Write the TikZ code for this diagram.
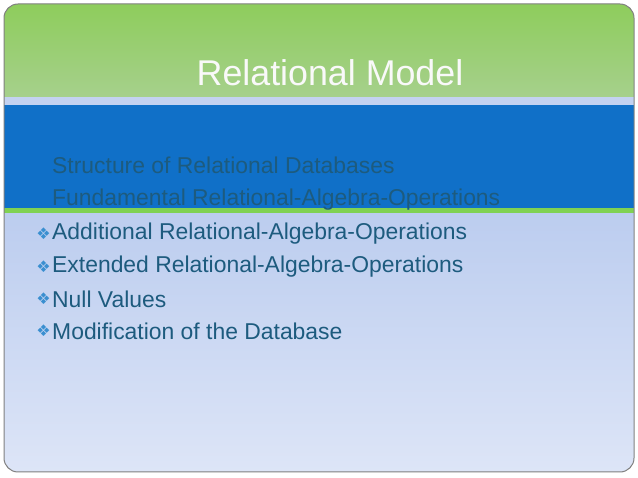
\documentclass[tikz,border=0pt]{standalone}
\usepackage{fontspec}
\setmainfont{Liberation Sans}
\newfontfamily\dejavu{DejaVu Sans}
\definecolor{txt}{HTML}{1D5B7E}
\definecolor{bul}{HTML}{3A8FD0}
\definecolor{gtop}{HTML}{8ECD5C}
\definecolor{gbot}{HTML}{A6D08C}
\definecolor{blueband}{HTML}{1070C8}
\definecolor{lb1}{HTML}{BCCDEF}
\definecolor{lb2}{HTML}{DDE5F7}
\tikzset{item/.style={anchor=west,text=txt,font=\fontsize{22.9}{26}\selectfont,inner sep=0pt}}
\begin{document}
\begin{tikzpicture}[x=1pt,y=-1pt]
\useasboundingbox (0,0) rectangle (638,478);
\fill[white] (0,0) rectangle (638,478);
\begin{scope}
\clip[rounded corners=14pt] (4,4) rectangle (634,472);
\shade[top color=gtop,bottom color=gbot] (4,4) rectangle (634,97);
\fill[lb1!90!white] (4,97) rectangle (634,105);
\fill[blueband] (4,105) rectangle (634,208);
\fill[gtop!90!green] (4,208) rectangle (634,214);
\shade[top color=lb1,bottom color=lb2] (4,214) rectangle (634,472);
\end{scope}
\draw[gray,line width=1pt,rounded corners=14pt] (4,4) rectangle (634,472);
\node[text=white!95!gray,font=\fontsize{35.8}{40}\selectfont] (title) at (330,73) {Relational Model};
\node[item] (i1) at (52,165) {Structure of Relational Databases};
\node[item] (i2) at (52,200) {Fundamental Relational-Algebra-Operations};
\node[item] (i3) at (52,234) {Additional Relational-Algebra-Operations};
\node[item] (i4) at (52,267) {Extended Relational-Algebra-Operations};
\node[item] (i5) at (52,299) {Null Values};
\node[item] (i6) at (52,331) {Modification of the Database};
\foreach \n in {i3,i4,i5,i6}
  \node[text=bul,font=\dejavu\fontsize{16}{18}\selectfont,anchor=east,inner sep=1pt] at (\n.west) {❖};
\end{tikzpicture}
\end{document}
